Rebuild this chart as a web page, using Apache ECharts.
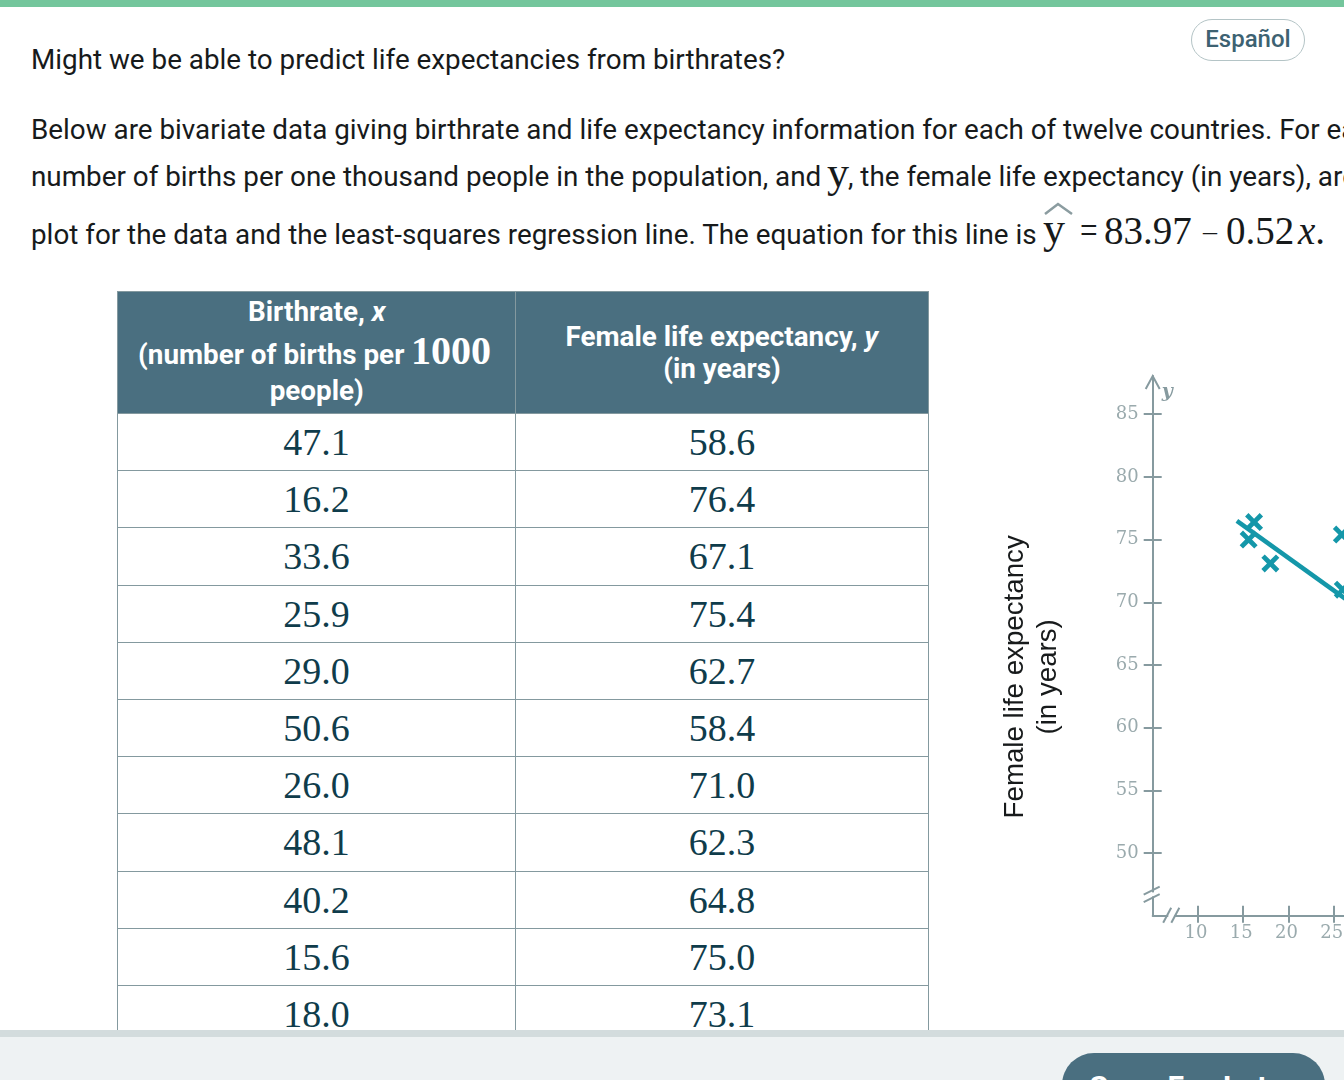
<!DOCTYPE html>
<html>
<head>
<meta charset="utf-8">
<title>Birthrate and life expectancy</title>
<script src="https://cdn.jsdelivr.net/npm/echarts@6/dist/echarts.min.js"></script>
<style>
html, body { margin: 0; padding: 0; width: 1344px; height: 1080px; overflow: hidden; background: #fff; }
body { position: relative; font-family: Roboto, sans-serif; color: #171a1b; }
.abs { position: absolute; white-space: nowrap; }
.line { font-size: 27px; line-height: 36px; transform-origin: left center; }
.math { font-family: "Liberation Serif", serif; color: #171a1b; font-size: 39px; line-height: 46px; top: 208px; }
.bigY { font-family: "Liberation Serif", serif; color: #171a1b; font-size: 44px; line-height: 48px; }
#topbar { left: 0; top: 0; width: 1344px; height: 7px; background: #74c69c; }
#lang { left: 1191px; top: 19px; width: 112px; height: 40px; border: 1.5px solid #b4c4c6; border-radius: 21px;
  text-align: center; line-height: 38px; font-size: 24px; font-weight: 500; color: #3d6272; }
#tableWrap { left: 116px; top: 290px; width: 815px; height: 740px; overflow: hidden; }
table { border-collapse: collapse; table-layout: fixed; width: 811px; margin: 1px; }
th, td { border: 1.5px solid #84999f; padding: 0; text-align: center; overflow: hidden; }
th { background: #4a6f80; color: #fff; font-weight: 700; font-size: 27px; height: 121px; }
th div { line-height: 39.5px; }
th.two div { line-height: 32px; }
td { height: 56.2px; font-family: "Liberation Serif", serif; font-size: 38px; color: #0f3c4b; }
th span { display: inline-block; transform-origin: center; }
th i { font-style: italic; }
th b { font-family: "Liberation Serif", serif; font-size: 40px; line-height: 0; margin-left: 4px; }
th .mid { position: relative; top: 3px; }
#footLine { left: 0; top: 1030px; width: 1344px; height: 7px; background: #d3dcdd; }
#foot { left: 0; top: 1037px; width: 1344px; height: 43px; background: #eef2f3; overflow: hidden; }
#saveBtn { left: 1062px; top: 16px; width: 263px; height: 70px; background: #4a6f80; border-radius: 32px;
  color: #fff; font-size: 30px; font-weight: 700; letter-spacing: 1px; text-align: center; line-height: 68px; }
#chart { position: absolute; left: 0; top: 0; width: 1800px; height: 1030px; }
</style>
</head>
<body>
<div class="abs" id="topbar"></div>
<div class="abs" id="lang">Español</div>

<div class="abs line" style="left:30.5px;top:42px" id="firstLine">Might we be able to predict life expectancies from birthrates?</div>
<div class="abs line" style="left:30.5px;top:112px">Below are bivariate data giving birthrate and life expectancy information for each of twelve countries. For each</div>
<div class="abs line" style="left:30.5px;top:159px">number of births per one thousand people in the population, and</div>
<div class="abs bigY" style="left:827px;top:149px">y</div>
<div class="abs line" style="left:848px;top:159px">, the female life expectancy (in years), are</div>
<div class="abs line" style="left:30.5px;top:217px">plot for the data and the least-squares regression line. The equation for this line is</div>
<div class="abs bigY" style="left:1043px;top:205px">y</div>
<svg class="abs" style="left:1042px;top:200px" width="34" height="18"><polyline points="3,14 16,4 30,14" fill="none" stroke="#8b9ca0" stroke-width="2.5"/></svg>
<div class="abs math" style="left:1080px;transform:scaleX(.8);transform-origin:left center">=</div>
<div class="abs math" style="left:1104px">83.97</div>
<div class="abs math" style="left:1203px;font-size:28px">–</div>
<div class="abs math" style="left:1226px">0.52</div>
<div class="abs math" style="left:1298px"><i>x</i>.</div>

<div class="abs" id="tableWrap"><table id="dataTable"></table></div>
<div id="chart"></div>

<div class="abs" id="footLine"></div>
<div class="abs" id="foot"><div class="abs" id="saveBtn">Save For Later</div></div>

<script>
// 数据
const birthrates = [47.1, 16.2, 33.6, 25.9, 29.0, 50.6, 26.0, 48.1, 40.2, 15.6, 18.0];
const lifeExpectancy = [58.6, 76.4, 67.1, 75.4, 62.7, 58.4, 71.0, 62.3, 64.8, 75.0, 73.1];
const lineX = [14.3, 55];
const lineY = [76.5, 55.4];
const xTicks = [10, 15, 20, 25, 30, 35, 40, 45, 50, 55];
const yTicks = [50, 55, 60, 65, 70, 75, 80, 85];
const yBreaks = [47.0, 46.4];
const xBreaks = [6.6, 7.5];

// 表格
const table = document.getElementById("dataTable");
let rows = '<colgroup><col style="width:398px"><col style="width:413px"></colgroup>';
rows += '<tr><th><div><span>Birthrate, <i>x</i></span></div>' +
	'<div class="mid"><span>(number of births per</span> <b>1000</b></div>' +
	'<div><span>people)</span></div></th>' +
	'<th class="two"><div><span>Female life expectancy, <i>y</i></span></div>' +
	'<div><span>(in years)</span></div></th></tr>';
birthrates.forEach((b, i) => {
	rows += "<tr><td>" + b.toFixed(1) + "</td><td>" + lifeExpectancy[i].toFixed(1) + "</td></tr>";
});
table.innerHTML = rows;

// reference text is horizontally squeezed
const first = document.getElementById("firstLine");
const squeeze = 754 / first.offsetWidth;
document.querySelectorAll(".line").forEach((el) => {
	el.style.transform = "scaleX(" + squeeze + ")";
});
document.querySelectorAll("th span").forEach((el) => {
	el.style.transform = "scaleX(" + squeeze + ")";
});

let chart = echarts.init(document.getElementById("chart"));

const axisColor = "#869a9f";
const markColor = "#1497a9";
const labelStyle = { color: "#9aaaad", fontFamily: "DejaVu Serif", fontSize: 18 };

// 轴的折断符号和箭头
function renderAxisMarks(params, api) {
	const kind = api.value(2);
	const p = api.coord([api.value(0), api.value(1)]);
	const style = { stroke: axisColor, lineWidth: 2, fill: null };
	if (kind === 0) {
		return { type: "line", shape: { x1: p[0] - 9, y1: p[1] + 4, x2: p[0] + 7, y2: p[1] - 4 }, style };
	}
	if (kind === 1) {
		return { type: "line", shape: { x1: p[0] - 4, y1: p[1] + 7, x2: p[0] + 4, y2: p[1] - 8 }, style };
	}
	if (kind === 3) {
		return { type: "rect", shape: { x: p[0] - 3, y: p[1] - 2, width: 6, height: 4 }, style: { fill: "#fff" } };
	}
	return {
		type: "polyline",
		shape: { points: [[p[0] - 7, p[1] + 13], [p[0], p[1]], [p[0] + 7, p[1] + 13]] },
		style,
	};
}

const axisMarks = [
	[5, (yBreaks[0] + yBreaks[1]) / 2, 3],
	[(xBreaks[0] + xBreaks[1]) / 2, 45, 3],
	...yBreaks.map((v) => [5, v, 0]),
	...xBreaks.map((v) => [v, 45, 1]),
	[5, 88.05, 2],
];

let option = {
	animation: false,
	grid: { left: 1152.7, top: 376, width: 452.5, height: 539.7 },
	xAxis: [
		{
			type: "value",
			min: 5,
			max: 55,
			interval: 5,
			splitLine: { show: false },
			axisLine: { onZero: false, lineStyle: { color: axisColor, width: 2 } },
			axisTick: { customValues: xTicks, length: 7, lineStyle: { color: axisColor, width: 2 } },
			axisLabel: { customValues: xTicks, margin: 9, padding: [0, 4, 0, 0], ...labelStyle },
		},
		{
			type: "value",
			position: "bottom",
			min: 5,
			max: 55,
			interval: 5,
			splitLine: { show: false },
			axisLine: { show: false },
			axisTick: { customValues: xTicks, inside: true, length: 10, lineStyle: { color: axisColor, width: 2 } },
			axisLabel: { show: false },
		},
	],
	yAxis: [
		{
			type: "value",
			min: 45,
			max: 88.05,
			interval: 5,
			name: "Female life expectancy\n(in years)",
			nameLocation: "middle",
			nameGap: 88,
			nameRotate: 90,
			nameTextStyle: {
				color: "#171a1b",
				fontFamily: "Liberation Sans",
				fontSize: 27.7,
				lineHeight: 33,
				padding: [0, 62, 0, 0],
			},
			splitLine: { show: false },
			axisLine: { onZero: false, lineStyle: { color: axisColor, width: 2 } },
			axisTick: { customValues: yTicks, length: 9, lineStyle: { color: axisColor, width: 2 } },
			axisLabel: { customValues: yTicks, margin: 14, padding: [0, 0, 5, 0], ...labelStyle },
		},
		{
			type: "value",
			position: "left",
			min: 45,
			max: 88.05,
			interval: 5,
			name: "y",
			nameLocation: "end",
			nameGap: -16,
			nameTextStyle: {
				color: "#869a9f",
				fontFamily: "DejaVu Serif",
				fontStyle: "italic",
				fontWeight: "bold",
				fontSize: 19,
				align: "left",
				verticalAlign: "middle",
				padding: [0, 0, 0, 9],
			},
			splitLine: { show: false },
			axisLine: { show: false },
			axisTick: { customValues: yTicks, inside: true, length: 9, lineStyle: { color: axisColor, width: 2 } },
			axisLabel: { show: false },
		},
	],
	series: [
		{
			name: "regression line",
			type: "line",
			data: lineX.map((x, i) => [x, lineY[i]]),
			showSymbol: false,
			lineStyle: { color: markColor, width: 4.5 },
			silent: true,
		},
		{
			name: "countries",
			type: "scatter",
			data: birthrates.map((x, i) => [x, lifeExpectancy[i]]),
			symbol: "path://M3 0 L8 5 L13 0 L16 3 L11 8 L16 13 L13 16 L8 11 L3 16 L0 13 L5 8 L0 3 Z",
			symbolSize: 18,
			itemStyle: { color: markColor, opacity: 1 },
		},
		{
			name: "axis marks",
			type: "custom",
			data: axisMarks,
			renderItem: renderAxisMarks,
			clip: false,
			silent: true,
		},
	],
};

chart.setOption(option);
</script>
</body>
</html>
